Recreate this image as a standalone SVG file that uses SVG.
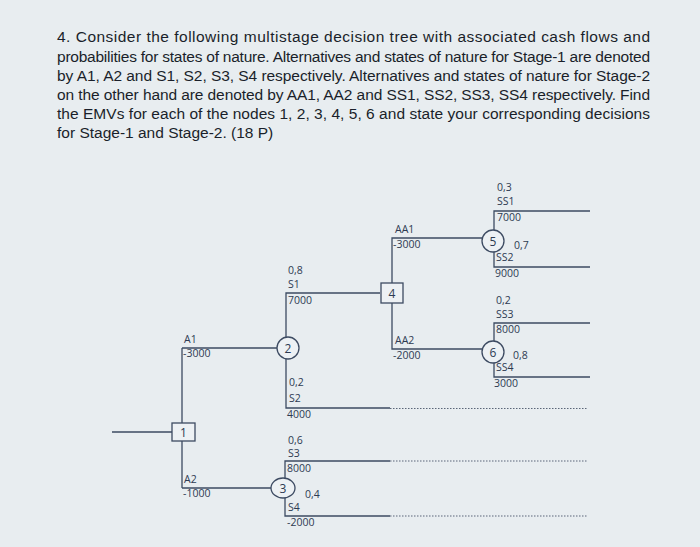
<svg xmlns="http://www.w3.org/2000/svg" width="700" height="547" viewBox="0 0 700 547">
<style>
.q{font-family:"Liberation Sans",Arial,sans-serif;font-size:15.5px;fill:#1a1f2a}
.l{font-family:"Open Sans","Liberation Sans",sans-serif;font-size:10.5px;fill:#2e3b52}
.n{font-family:"Open Sans","Liberation Sans",sans-serif;font-size:12px;fill:#2e3b52;text-anchor:middle}
.e{fill:none;stroke:#3d4b62;stroke-width:1.3}
.d{fill:none;stroke:#5a6678;stroke-width:1.2;stroke-dasharray:1.5 1.5}
.nd{fill:#edf1f4;stroke:#3d4b62;stroke-width:1.3}
</style>
<rect width="700" height="547" fill="#e8edf0"/>
<g id="question">
<text class="q" x="57" y="42" textLength="593" lengthAdjust="spacing">4.  Consider the following multistage decision tree with associated cash flows and</text>
<text class="q" x="57" y="62" textLength="593" lengthAdjust="spacing">probabilities for states of nature. Alternatives and states of nature for Stage-1 are denoted</text>
<text class="q" x="57" y="81" textLength="593" lengthAdjust="spacing">by A1, A2 and S1, S2, S3, S4 respectively. Alternatives and states of nature for Stage-2</text>
<text class="q" x="57" y="100" textLength="593" lengthAdjust="spacing">on the other hand are denoted by AA1, AA2 and SS1, SS2, SS3, SS4 respectively. Find</text>
<text class="q" x="57" y="119" textLength="593" lengthAdjust="spacing">the EMVs for each of the nodes 1, 2, 3, 4, 5, 6 and state your corresponding decisions</text>
<text class="q" x="57" y="138">for Stage-1 and Stage-2. (18 P)</text>
</g>
<g id="connectors">
<path class="e" d="M112 432H172M182 348V488M182 348H277M182 488H271"/>
<path class="e" d="M286 338V293H380M286 359V408H390M285 478V461H390M285 498V516H390"/>
<path class="d" d="M390 408.5H588M390 461H588M390 516H588"/>
<path class="e" d="M392 283V238H482M392 303V349H482"/>
<path class="e" d="M494 230V211H590M494 252V267H590M494 341V323H590M494 363V377H590"/>
</g>
<g id="node1"><rect class="nd" x="172" y="423" width="23" height="18"/><text class="n" x="183.5" y="436.5">1</text></g>
<g id="node2"><circle class="nd" cx="288" cy="348" r="11"/><text class="n" x="288" y="352.5">2</text></g>
<g id="node3"><ellipse class="nd" cx="283" cy="488" rx="12" ry="10"/><text class="n" x="283" y="492.5">3</text></g>
<g id="node4"><rect class="nd" x="381" y="283" width="22" height="20"/><text class="n" x="392" y="297.5">4</text></g>
<g id="node5"><circle class="nd" cx="493" cy="241" r="11"/><text class="n" x="493" y="245.5">5</text></g>
<g id="node6"><circle class="nd" cx="493" cy="352" r="11"/><text class="n" x="493" y="356.5">6</text></g>
<g id="labels">
<text class="l" x="184" y="343">A1</text><text class="l" x="183" y="357">-3000</text>
<text class="l" x="184" y="483">A2</text><text class="l" x="183" y="497">-1000</text>
<text class="l" x="288" y="274">0,8</text><text class="l" x="288" y="288">S1</text><text class="l" x="288" y="304">7000</text>
<text class="l" x="289" y="386">0,2</text><text class="l" x="289" y="402">S2</text><text class="l" x="287" y="418">4000</text>
<text class="l" x="288" y="444">0,6</text><text class="l" x="288" y="457">S3</text><text class="l" x="287" y="472">8000</text>
<text class="l" x="305" y="498">0,4</text><text class="l" x="288" y="511">S4</text><text class="l" x="287" y="526">-2000</text>
<text class="l" x="395" y="233">AA1</text><text class="l" x="393" y="248">-3000</text>
<text class="l" x="395" y="344">AA2</text><text class="l" x="393" y="359">-2000</text>
<text class="l" x="497" y="191">0,3</text><text class="l" x="497" y="205">SS1</text><text class="l" x="497" y="221">7000</text>
<text class="l" x="514" y="249">0,7</text><text class="l" x="496" y="261">SS2</text><text class="l" x="495" y="277">9000</text>
<text class="l" x="496" y="304">0,2</text><text class="l" x="496" y="318">SS3</text><text class="l" x="496" y="333">8000</text>
<text class="l" x="513" y="359">0,8</text><text class="l" x="496" y="371">SS4</text><text class="l" x="494" y="387">3000</text>
</g>
</svg>
